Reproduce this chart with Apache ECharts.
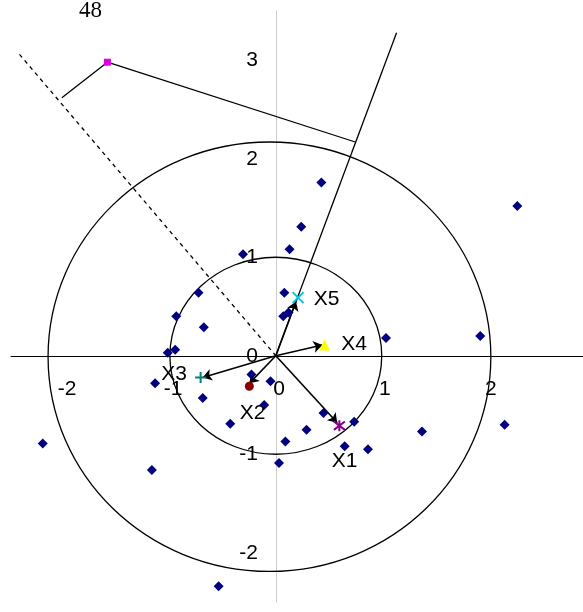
<!DOCTYPE html>
<html><head><meta charset="utf-8">
<script src="https://cdn.jsdelivr.net/npm/echarts@6/dist/echarts.min.js"></script>
<style>html,body{margin:0;padding:0;background:#fff}#c{width:583px;height:612px}</style>
</head><body><div id="c"></div>
<script>
var points = [[0.43,1.76],[2.28,1.52],[0.24,1.31],[0.13,1.08],[-0.31,1.03],[0.08,0.64],[-0.73,0.64],
[-0.94,0.40],[-0.68,0.29],[0.07,0.40],[0.12,0.44],[1.04,0.18],[1.93,0.20],[-0.95,0.06],[-1.02,0.03],
[-1.14,-0.28],[-0.23,-0.19],[-0.05,-0.26],[-0.69,-0.43],[-0.11,-0.50],[-0.43,-0.69],[0.45,-0.58],
[0.74,-0.67],[0.29,-0.75],[0.09,-0.87],[0.65,-0.92],[0.87,-0.95],[0.03,-1.09],[1.38,-0.77],
[2.16,-0.70],[-2.20,-0.89],[-1.17,-1.16],[-0.54,-2.34]];
var varNames = ['X1','X2','X3','X4','X5'];
var varVectors = [[0.60,-0.71],[-0.25,-0.31],[-0.71,-0.22],[0.46,0.11],[0.21,0.59]];
var arrowEnds = [[0.58,-0.68],[-0.25,-0.28],[-0.69,-0.22],[0.44,0.11],[0.19,0.55]];
var labelPos = [[0.65,-1.07],[-0.22,-0.58],[-0.96,-0.19],[0.74,0.12],[0.48,0.57]];
var obs48 = [-1.59,2.98];
var axisLine = [[0,0],[1.14,3.28]];
var projLine = [[-1.59,2.98],[0.75,2.17]];
var dashLine = [[-2.42,3.06],[0,0]];
var projLine2 = [[-1.59,2.98],[-2.02,2.62]];
var circles = [[0,0,1.0,1.0],[-0.06,-0.01,2.09,2.18]];
var xTicks = [-2,-1,0,1,2];
var yTicks = [-2,-1,0,1,2,3];

var colors = ['#880088','#8b0000','#008080','#ffff00','#00c8e0'];
var markers = ['path://M-1,-1L1,1M1,-1L-1,1M0,-1.3L0,1.3','circle','path://M-1,0L1,0M0,-1L0,1','triangle','path://M-1,-1L1,1M1,-1L-1,1'];
var series = [];
series.push({type:'custom',renderItem:function(p,api){
  var c=api.coord([api.value(0),api.value(1)]);var s=api.size([api.value(2),api.value(3)]);
  return {type:'ellipse',shape:{cx:c[0],cy:c[1],rx:s[0],ry:s[1]},style:{fill:'none',stroke:'#000',lineWidth:1.3}};
},data:circles,silent:true,z:1});
function seg(d,dash){series.push({type:'line',data:d,symbol:'none',lineStyle:{color:'#000',width:1.3,type:dash?[4,4]:'solid'},silent:true,z:2});}
seg(axisLine);seg(projLine);seg(dashLine,true);seg(projLine2);
series.push({type:'lines',coordinateSystem:'cartesian2d',symbol:['none','arrow'],symbolSize:9,
  lineStyle:{color:'#000',width:1.6,opacity:1},data:arrowEnds.map(function(e){return {coords:[[0,0],e]};}),z:3});
series.push({type:'scatter',data:points,symbol:'diamond',symbolSize:10,itemStyle:{color:'#000080',opacity:1},z:4});
varVectors.forEach(function(v,i){
  var stroke=(markers[i].indexOf('path')===0);
  series.push({type:'scatter',data:[v],symbol:markers[i],symbolSize:i===1?9:11,
   itemStyle:stroke?{color:'none',borderColor:colors[i],borderWidth:2,opacity:1}:{color:colors[i],opacity:1},z:5});
});
series.push({type:'scatter',data:[obs48],symbol:'rect',symbolSize:7,itemStyle:{color:'#e000e0',opacity:1},z:5});
var txt={fontFamily:'Liberation Sans',fontSize:21,color:'#000',textBorderWidth:0};
function textSeries(data,lab){series.push({type:'scatter',symbolSize:0,data:data,itemStyle:{opacity:1},
  label:Object.assign({show:true,formatter:'{b}',position:'inside'},txt,lab||{}),z:6});}
textSeries(labelPos.map(function(p,i){return {value:p,name:varNames[i]};}));
textSeries([{value:[-1.75,3.5],name:'48'}],{fontFamily:'Liberation Serif',fontSize:23});
textSeries(xTicks.map(function(t){return {value:[t+0.03,-0.34],name:String(t)};}));
textSeries(yTicks.map(function(t){return {value:[-0.17,t],name:String(t)};}),{align:'right'});

var chart=echarts.init(document.getElementById('c'));
chart.setOption({animation:false,
 grid:{left:11,right:0,top:11,bottom:10,outerBoundsMode:'none',containLabel:false},
 xAxis:{type:'value',min:-2.5,max:2.9,interval:0.5,splitLine:{show:false},
  axisLine:{onZero:true,lineStyle:{color:'#000',width:1}},axisTick:{show:false},axisLabel:{show:false}},
 yAxis:{type:'value',min:-2.5,max:3.5,interval:0.5,splitLine:{show:false},
  axisLine:{onZero:true,lineStyle:{color:'#ccc',width:1}},axisTick:{show:false},axisLabel:{show:false}},
 series:series});
</script></body></html>
